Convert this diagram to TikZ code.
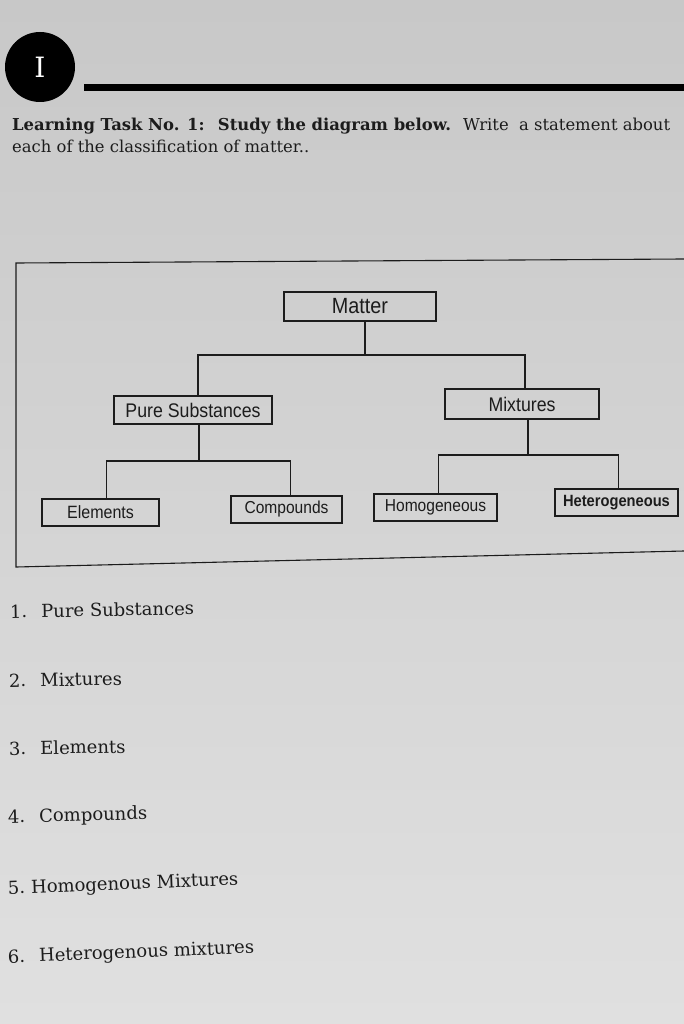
\documentclass[tikz,border=0pt]{standalone}
\usepackage{fontspec}
\setmainfont{DejaVu Serif}
\newfontfamily\boxfont[FakeStretch=0.9]{Liberation Sans}
\definecolor{ink}{RGB}{28,28,28}
\definecolor{papertop}{RGB}{200,200,200}
\definecolor{paperbot}{RGB}{224,224,224}
\begin{document}
\begin{tikzpicture}[x=1pt,y=-1pt,
  box/.style={draw=ink, line width=1.1pt, inner sep=0pt, font=\boxfont, text=ink},
  conn/.style={draw=ink, line width=1.1pt},
  item/.style={anchor=base west, inner sep=0pt, text=ink, font=\fontsize{18}{18}\selectfont}]
\useasboundingbox (0,0) rectangle (684,1024);
\shade[top color=papertop, bottom color=paperbot] (0,0) rectangle (684,1024);
% header
\node[circle, fill=black, minimum size=70pt, inner sep=0pt, text=white,
      font=\fontsize{28}{28}\selectfont] (badge) at (40,67) {I};
\coordinate (ruleL) at (84,88);
\coordinate (ruleR) at (684,88);
\draw[line width=7pt, black] (ruleL) -- (ruleR);
\node[anchor=base west, inner sep=0pt, text=ink, font=\fontsize{16.4}{16.4}\selectfont] (task1) at (12,131)
  {\textbf{Learning Task No. 1: \ Study the diagram below.} \ Write \ a statement about};
\node[anchor=base west, inner sep=0pt, text=ink, font=\fontsize{16.4}{16.4}\selectfont] (task2) at (12,153)
  {each of the classification of matter..};
% frame
\coordinate (fTR) at (684,259);
\coordinate (fTL) at (16,263);
\coordinate (fBL) at (16,567);
\coordinate (fBR) at (684,551);
\draw[conn] (fTR) -- (fTL) -- (fBL) -- (fBR);
% nodes
\node[box, minimum width=152pt, minimum height=29pt, font=\boxfont\fontsize{22}{22}\selectfont] (matter) at (360,306.5) {Matter};
\node[box, minimum width=158pt, minimum height=28pt, font=\boxfont\fontsize{19.7}{19.7}\selectfont] (pure) at (193,410) {Pure Substances};
\node[box, minimum width=154pt, minimum height=30pt, font=\boxfont\fontsize{19.7}{19.7}\selectfont] (mix) at (522,404) {Mixtures};
\node[box, minimum width=117pt, minimum height=27pt, font=\boxfont\fontsize{17.8}{17.8}\selectfont] (elem) at (100.5,512.5) {Elements};
\node[box, minimum width=111pt, minimum height=27pt, font=\boxfont\fontsize{17.3}{17.3}\selectfont] (comp) at (286.5,509.5) {Compounds};
\node[box, minimum width=123pt, minimum height=27pt, font=\boxfont\fontsize{17.3}{17.3}\selectfont] (homo) at (435.5,507.5) {Homogeneous};
\node[box, minimum width=123pt, minimum height=27pt, font=\boxfont\bfseries\fontsize{16.3}{16.3}\selectfont] (hetero) at (616.5,502.5) {Heterogeneous};
% connectors
\coordinate (j1) at (365,355);
\coordinate (j2) at (199,461);
\coordinate (j3) at (528,455);
\draw[conn] (matter.south -| j1) -- (j1);
\draw[conn] ([xshift=5]pure.north) |- (j1) -| ([xshift=3]mix.north);
\draw[conn] (pure.south -| j2) -- (j2);
\draw[conn] ([xshift=6]elem.north) |- (j2) -| ([xshift=4]comp.north);
\draw[conn] (mix.south -| j3) -- (j3);
\draw[conn] ([xshift=3]homo.north) |- (j3) -| ([xshift=2]hetero.north);
% list
\node[item, rotate=1] (i1) at (10,618) {1.\hspace{14pt}Pure Substances};
\node[item, rotate=1] (i2) at (9,687) {2.\hspace{14pt}Mixtures};
\node[item, rotate=1] (i3) at (9,755) {3.\hspace{14pt}Elements};
\node[item, rotate=1.5] (i4) at (8,823) {4.\hspace{14pt}Compounds};
\node[item, rotate=2.2] (i5) at (8,894) {5.\hspace{6pt}Homogenous Mixtures};
\node[item, rotate=2.3] (i6) at (8,963) {6.\hspace{14pt}Heterogenous mixtures};
\end{tikzpicture}
\end{document}
